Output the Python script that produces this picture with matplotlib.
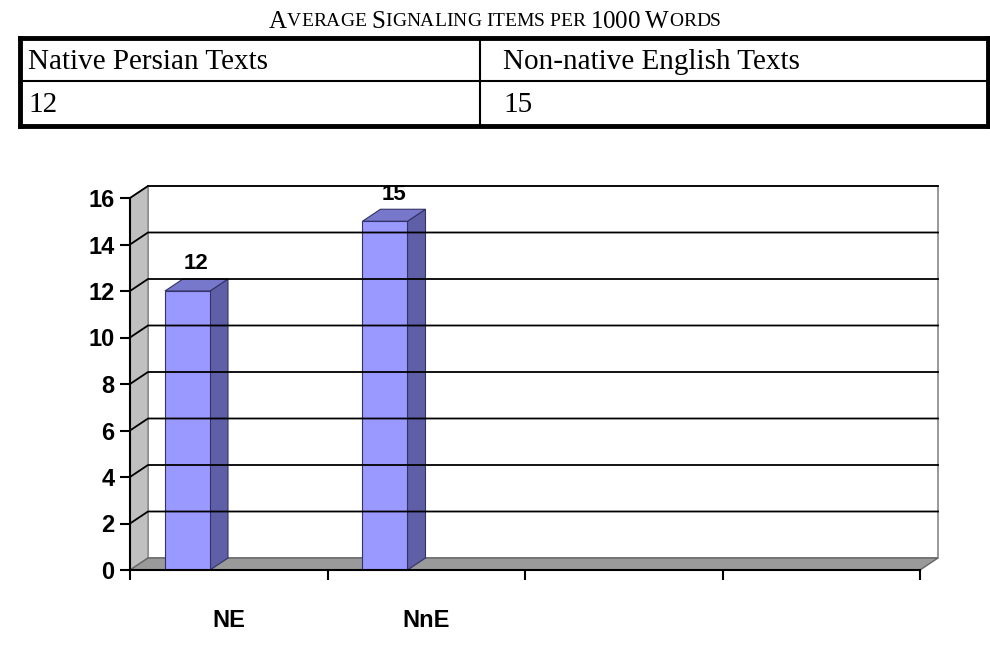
import matplotlib
matplotlib.use('Agg')
import matplotlib.pyplot as plt
from matplotlib.patches import Polygon, Rectangle
from matplotlib.lines import Line2D

categories = ['NE', 'NnE', '', '']
values = [12, 15]
header = ['Native Persian Texts', 'Non-native English Texts']
row = ['12', '15']
yticks = list(range(0, 17, 2))
title = 'Average Signaling items per 1000 Words'

W, H = 990, 657
fig = plt.figure(figsize=(9.9, 6.57), dpi=100)

def fx(px):
    return px / W

def fy(py):
    return 1 - py / H

serif = 'Liberation Serif'

# title in small caps: upper-case letters large, others as small capitals
renderer = fig.canvas.get_renderer()
pieces = []
for ch in title:
    big = ch.isupper() or ch.isdigit()
    t = fig.text(0, fy(22), ch.upper() if ch != ' ' else '\u00a0', fontsize=18 if big else 14,
                 family=serif, va='baseline' if False else 'center')
    pieces.append(t)
widths = [p.get_window_extent(renderer).width for p in pieces]
x = (W - sum(widths)) / 2
for p, w in zip(pieces, widths):
    p.set_x(fx(x))
    x += w

# table
lw = 3.5
for (x0, y0, x1, y1, w) in [(20, 38, 988, 38, lw), (20, 126, 988, 126, lw),
                            (20, 38, 20, 126, lw), (988, 38, 988, 126, lw),
                            (20, 81, 988, 81, 1.5), (480, 38, 480, 126, 1.5)]:
    fig.add_artist(Line2D([fx(x0), fx(x1)], [fy(y0), fy(y1)], color='black', lw=w))
for i, (h, r) in enumerate(zip(header, row)):
    x = 28 if i == 0 else 503
    fig.text(fx(x), fy(62), h, fontsize=21, family=serif, va='center')
    fig.text(fx(x), fy(105), r, fontsize=21, family=serif, va='center')

# chart axes: front axis 130..940 px, y 0 at 570, 23.25 px per unit
cat_px = 197.5
unit_px = 23.25
xmax, ymax = 4.1, 16.6
ax = fig.add_axes([fx(130), fy(570), xmax * cat_px / W, ymax * unit_px / H])
ax.set_xlim(0, xmax)
ax.set_ylim(0, ymax)
for s in ax.spines.values():
    s.set_visible(False)

dx, dy = 18 / cat_px, 12 / unit_px
top = 16
# back wall
ax.add_patch(Rectangle((dx, dy), 4, top, facecolor='white', edgecolor='#888888', lw=1.2))
# left wall
ax.add_patch(Polygon([(0, 0), (dx, dy), (dx, top + dy), (0, top)],
                     facecolor='#c0c0c0', edgecolor='#888888', lw=1))
# floor
ax.add_patch(Polygon([(0, 0), (4, 0), (4 + dx, dy), (dx, dy)],
                     facecolor='#9a9a9a', edgecolor='#666666', lw=1))
for v in yticks[1:]:
    ax.plot([0, dx, 4 + dx], [v, v + dy, v + dy], color='black', lw=1.3)

# bars
bw = 0.228
for i, v in enumerate(values):
    x0 = i + 0.177
    ax.add_patch(Polygon([(x0 + bw, 0), (x0 + bw + dx, dy), (x0 + bw + dx, v + dy), (x0 + bw, v)],
                         facecolor='#5f5fa8', edgecolor='#333366', lw=0.8))
    ax.add_patch(Polygon([(x0, v), (x0 + bw, v), (x0 + bw + dx, v + dy), (x0 + dx, v + dy)],
                         facecolor='#7777cc', edgecolor='#333366', lw=0.8))
    ax.add_patch(Rectangle((x0, 0), bw, v, facecolor='#9999ff', edgecolor='#333366', lw=0.8))
    ax.text(x0 + bw / 2 + dx / 2, v + dy + 0.2, str(v), ha='center', va='bottom',
            fontsize=16, fontweight='bold', family='Liberation Sans')

# axes lines and ticks
ax.plot([0, 4], [0, 0], color='black', lw=1.5, clip_on=False)
ax.plot([0, 0], [0, top], color='black', lw=1.5, clip_on=False)
ax.set_xticks(range(5))
ax.set_xticklabels([])
ax.set_xticks([i + 0.5 for i in range(4)], minor=True)
ax.set_xticklabels(categories, minor=True, fontsize=17, fontweight='bold', family='Liberation Sans')
ax.tick_params(axis='x', which='minor', length=0, pad=28)
ax.tick_params(axis='x', which='major', length=7, width=1.5, direction='out')
ax.set_yticks(yticks)
ax.set_yticklabels([str(t) for t in yticks], fontsize=17, fontweight='bold', family='Liberation Sans')
ax.tick_params(axis='y', length=7, width=1.5, direction='out', pad=4)

fig.savefig('out.png', dpi=100)
